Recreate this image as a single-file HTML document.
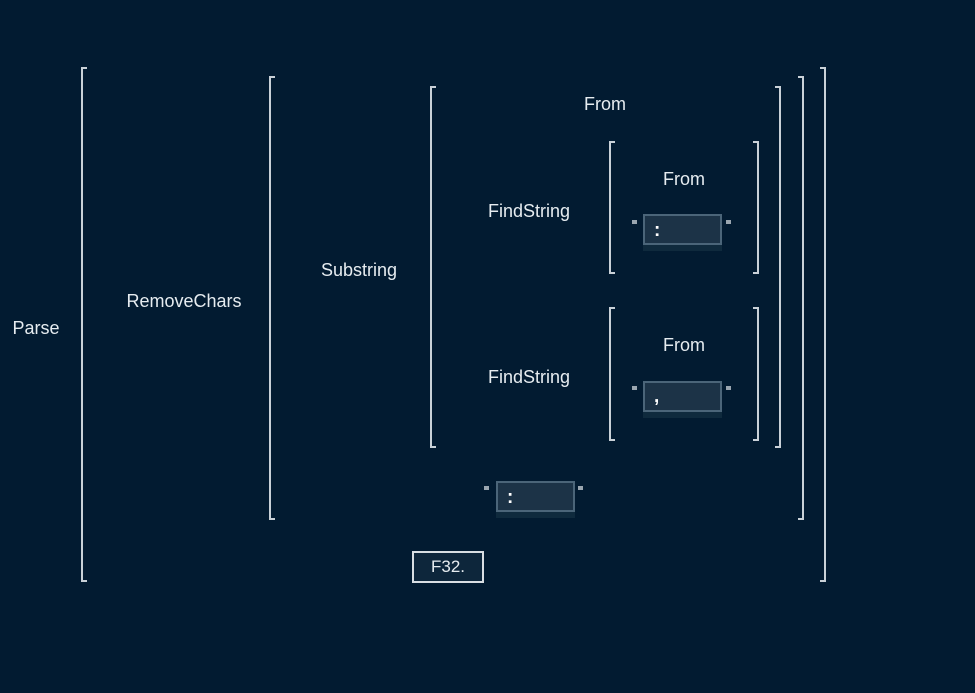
<!DOCTYPE html>
<html><head><meta charset="utf-8"><style>
html,body{margin:0;padding:0;}
body{width:975px;height:693px;background:#021b31;position:relative;overflow:hidden;font-family:"Liberation Sans",sans-serif;}
.t{position:absolute;color:#e6ecf0;font-size:18px;white-space:nowrap;transform:translate(-50%,-50%);line-height:1;}
.bl,.br{position:absolute;border:2px solid #c9d1d8;width:6px;box-sizing:border-box;}
.bl{border-right:none;}
.br{border-left:none;}
.box{position:absolute;width:79px;height:31px;background:#1c3347;border:2px solid #4b6579;box-sizing:border-box;}
.sh{position:absolute;width:79px;height:6px;background:#0f2a3d;}
.q{position:absolute;width:5px;height:4px;background:#9aa6b0;}
.colon{position:absolute;color:#fff;font-size:19px;font-weight:bold;line-height:1;}
.f32{position:absolute;left:412px;top:551px;width:72px;height:32px;border:2px solid #d8dee3;box-sizing:border-box;background:#0d263b;color:#e6ecf0;font-size:17px;text-align:center;line-height:28px;}
</style></head><body>
<div class="t" style="left:36px;top:328px">Parse</div>
<div class="t" style="left:184px;top:301px">RemoveChars</div>
<div class="t" style="left:359px;top:270px">Substring</div>
<div class="t" style="left:605px;top:104px">From</div>
<div class="t" style="left:529px;top:211px">FindString</div>
<div class="t" style="left:684px;top:179px">From</div>
<div class="t" style="left:529px;top:377px">FindString</div>
<div class="t" style="left:684px;top:345px">From</div>

<div class="bl" style="left:81px;top:67px;height:515px"></div>
<div class="br" style="left:820px;top:67px;height:515px"></div>
<div class="bl" style="left:269px;top:76px;height:444px"></div>
<div class="br" style="left:798px;top:76px;height:444px"></div>
<div class="bl" style="left:430px;top:86px;height:362px"></div>
<div class="br" style="left:775px;top:86px;height:362px"></div>
<div class="bl" style="left:609px;top:141px;height:133px"></div>
<div class="br" style="left:753px;top:141px;height:133px"></div>
<div class="bl" style="left:609px;top:307px;height:134px"></div>
<div class="br" style="left:753px;top:307px;height:134px"></div>

<div class="q" style="left:632px;top:220px"></div>
<div class="box" style="left:643px;top:214px"></div>
<div class="sh" style="left:643px;top:245px"></div>
<div class="q" style="left:726px;top:220px"></div>
<div class="colon" style="left:654px;top:221px">:</div>

<div class="q" style="left:632px;top:386px"></div>
<div class="box" style="left:643px;top:381px"></div>
<div class="sh" style="left:643px;top:412px"></div>
<div class="q" style="left:726px;top:386px"></div>
<div class="colon" style="left:654px;top:387px">,</div>

<div class="q" style="left:484px;top:486px"></div>
<div class="box" style="left:496px;top:481px"></div>
<div class="sh" style="left:496px;top:512px"></div>
<div class="q" style="left:578px;top:486px"></div>
<div class="colon" style="left:507px;top:488px">:</div>

<div class="f32">F32.</div>
</body></html>
